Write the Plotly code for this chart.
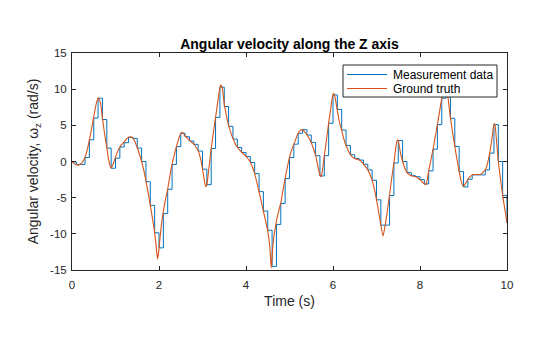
import plotly.graph_objects as go

# Measurement data (zero-order hold samples every 0.1 s)
meas_t = [round(0.1 * i, 1) for i in range(101)]
meas_v = [
    -0.05, -0.4, -0.4, 0.55, 3.0, 6.0, 8.75, 5.8, 1.85, -0.93,
    0.46, 2.0, 2.6, 3.33, 3.2, 1.85, 0.0, -2.8, -6.06, -9.86,
    -11.94, -7.2, -3.84, -0.42, 2.05, 3.9, 3.43, 2.83, 2.37, 1.45,
    -1.06, -3.2, 1.8, 6.1, 10.28, 7.6, 4.86, 3.1, 1.94, 1.25,
    0.7, -0.14, -1.67, -4.17, -6.85, -9.5, -14.5, -8.7, -5.8, -2.36,
    0.55, 2.4, 3.9, 4.4, 3.66, 2.64, 0.8, -2.0, 0.8, 5.28,
    9.2, 7.2, 4.35, 2.2, 0.93, 0.42, 0.2, -0.37, -1.16, -2.6,
    -5.3, -8.8, -8.8, -4.7, -0.2, 2.9, 0.0, -1.54, -1.96, -2.1,
    -2.5, -3.1, -1.3, 1.7, 5.1, 8.75, 10.4, 5.97, 2.08, -1.4,
    -3.52, -2.45, -1.85, -1.85, -1.85, -1.16, 1.16, 5.1, 0.0, -4.68,
    -8.5,
]

# Ground truth
truth_t = [
    0.00, 0.05, 0.10, 0.15, 0.20, 0.25, 0.30, 0.35, 0.40, 0.45,
    0.50, 0.55, 0.60, 0.65, 0.70, 0.75, 0.80, 0.85, 0.90, 0.95,
    1.00, 1.05, 1.10, 1.15, 1.20, 1.25, 1.30, 1.35, 1.40, 1.45,
    1.50, 1.55, 1.60, 1.65, 1.70, 1.75, 1.80, 1.85, 1.90, 1.94,
    1.97, 2.00, 2.05, 2.10, 2.15, 2.20, 2.25, 2.30, 2.35, 2.40,
    2.45, 2.50, 2.53, 2.55, 2.60, 2.65, 2.70, 2.75, 2.80, 2.85,
    2.90, 2.95, 3.00, 3.05, 3.08, 3.10, 3.15, 3.20, 3.25, 3.30,
    3.35, 3.40, 3.42, 3.45, 3.50, 3.55, 3.60, 3.65, 3.70, 3.75,
    3.80, 3.85, 3.90, 3.95, 4.00, 4.05, 4.10, 4.15, 4.20, 4.25,
    4.30, 4.35, 4.40, 4.45, 4.50, 4.55, 4.58, 4.62, 4.65, 4.70,
    4.75, 4.80, 4.85, 4.90, 4.95, 5.00, 5.05, 5.10, 5.15, 5.20,
    5.25, 5.30, 5.35, 5.40, 5.45, 5.50, 5.55, 5.60, 5.65, 5.70,
    5.72, 5.75, 5.80, 5.85, 5.90, 5.95, 6.00, 6.02, 6.05, 6.10,
    6.15, 6.20, 6.25, 6.30, 6.35, 6.40, 6.45, 6.50, 6.55, 6.60,
    6.65, 6.70, 6.75, 6.80, 6.85, 6.90, 6.95, 7.00, 7.05, 7.10,
    7.15, 7.20, 7.25, 7.30, 7.35, 7.40, 7.45, 7.48, 7.50, 7.55,
    7.60, 7.65, 7.70, 7.75, 7.80, 7.85, 7.90, 7.95, 8.00, 8.05,
    8.10, 8.13, 8.15, 8.20, 8.25, 8.30, 8.35, 8.40, 8.45, 8.50,
    8.55, 8.58, 8.62, 8.65, 8.70, 8.75, 8.80, 8.85, 8.90, 8.95,
    9.00, 9.05, 9.10, 9.15, 9.20, 9.25, 9.30, 9.35, 9.40, 9.45,
    9.50, 9.55, 9.60, 9.65, 9.70, 9.72, 9.75, 9.80, 9.85, 9.90,
    9.95, 10.00,
]
truth_v = [
    0.0, -0.3, -0.45, -0.5, -0.35, 0.0, 0.6, 1.6, 3.0, 4.5,
    6.2, 7.8, 8.8, 8.2, 6.0, 3.8, 1.9, 0.0, -0.9, -0.3,
    0.6, 1.4, 2.0, 2.4, 2.7, 3.1, 3.35, 3.4, 3.2, 2.7,
    1.9, 1.0, 0.0, -1.2, -2.7, -4.3, -6.0, -7.9, -9.8, -12.0,
    -13.5, -12.0, -9.0, -6.9, -5.2, -3.8, -2.0, -0.4, 0.9, 2.05,
    3.1, 3.9, 4.05, 4.0, 3.5, 3.2, 2.9, 2.65, 2.4, 2.0,
    1.5, 0.5, -1.0, -2.9, -3.5, -3.2, -0.8, 1.8, 4.0, 6.1,
    8.2, 10.2, 10.6, 10.2, 8.0, 6.3, 5.0, 4.0, 3.2, 2.5,
    2.0, 1.6, 1.25, 1.0, 0.7, 0.35, -0.1, -0.8, -1.7, -2.9,
    -4.2, -5.5, -6.9, -8.2, -9.6, -12.0, -14.7, -11.5, -10.0, -8.2,
    -6.9, -5.7, -4.0, -2.3, -0.8, 0.6, 1.6, 2.4, 3.2, 3.9,
    4.3, 4.4, 4.1, 3.7, 3.2, 2.6, 1.8, 0.8, -0.6, -1.9,
    -2.1, -1.5, 0.8, 3.0, 5.3, 7.4, 9.3, 9.4, 8.8, 7.0,
    5.4, 4.3, 3.1, 2.2, 1.5, 0.95, 0.6, 0.42, 0.3, 0.2,
    0.0, -0.35, -0.7, -1.16, -1.8, -2.6, -3.8, -5.3, -7.0, -8.8,
    -10.3, -8.8, -6.8, -4.6, -2.3, -0.2, 2.2, 3.0, 2.9, 1.2,
    0.0, -0.9, -1.5, -1.8, -1.96, -2.05, -2.1, -2.3, -2.5, -2.8,
    -3.1, -3.2, -3.0, -1.3, 0.2, 1.7, 3.4, 5.1, 6.9, 8.75,
    10.0, 10.6, 10.2, 8.5, 6.0, 4.0, 2.1, 0.3, -1.4, -2.8,
    -3.5, -3.0, -2.45, -2.1, -1.85, -1.8, -1.8, -1.8, -1.75, -1.5,
    -1.16, -0.3, 1.1, 3.0, 5.1, 5.2, 3.5, 0.0, -2.4, -4.7,
    -6.6, -8.5,
]

series_names = ["Measurement data", "Ground truth"]
series_colors = ["#0072BD", "#D95319"]

x_ticks = [0, 2, 4, 6, 8, 10]
y_ticks = [-15, -10, -5, 0, 5, 10, 15]

FONT = "Liberation Sans, Arial, Helvetica, sans-serif"
AX = "#262626"

# plot area in pixels
L, R, T, B = 72, 507, 53, 270
def px_x(p):
    return (p - L) / (R - L)
def px_y(p):
    return (B - p) / (B - T)

fig = go.Figure()
fig.add_trace(go.Scatter(
    x=meas_t, y=meas_v, mode="lines", name=series_names[0],
    line=dict(color=series_colors[0], width=1, shape="hv"),
))
fig.add_trace(go.Scatter(
    x=truth_t, y=truth_v, mode="lines", name=series_names[1],
    line=dict(color=series_colors[1], width=1.1, shape="spline", smoothing=0.6),
))

axis_common = dict(
    showline=True, linecolor=AX, linewidth=1, mirror="ticks",
    ticks="inside", ticklen=4, tickcolor=AX, showgrid=False, zeroline=False,
    tickfont=dict(family=FONT, size=11.5, color=AX),
)

# compact MATLAB-style legend box
shapes = [dict(
    type="rect", xref="paper", yref="paper", layer="above",
    x0=px_x(343), x1=px_x(497), y0=px_y(97), y1=px_y(65),
    fillcolor="white", line=dict(color=AX, width=1),
)]
annotations = []
for i, (nm, col) in enumerate(zip(series_names, series_colors)):
    yc = 74.5 + 14 * i
    shapes.append(dict(
        type="line", xref="paper", yref="paper", layer="above",
        x0=px_x(347), x1=px_x(387), y0=px_y(yc), y1=px_y(yc),
        line=dict(color=col, width=1),
    ))
    annotations.append(dict(
        text=nm, xref="paper", yref="paper", showarrow=False,
        x=px_x(391), y=px_y(yc), xanchor="left", yanchor="middle",
        font=dict(family=FONT, size=12, color="black"),
    ))

fig.update_layout(
    width=560, height=337,
    margin=dict(l=L, r=560 - R, t=T, b=337 - B),
    paper_bgcolor="white", plot_bgcolor="white",
    font=dict(family=FONT, color=AX),
    title=dict(
        text="<b>Angular velocity along the Z axis</b>",
        x=(L + R) / 2 / 560, xanchor="center",
        y=1 - 44 / 337, yanchor="middle",
        font=dict(family=FONT, size=14, color="black"),
    ),
    xaxis=dict(
        range=[0, 10], tickvals=x_ticks, ticktext=[str(v) for v in x_ticks],
        ticklabelstandoff=4,
        title=dict(text="Time (s)", font=dict(family=FONT, size=14, color=AX), standoff=6),
        **axis_common,
    ),
    yaxis=dict(
        range=[-15, 15], tickvals=y_ticks, ticktext=[str(v) for v in y_ticks],
        ticklabelstandoff=2,
        title=dict(text="Angular velocity, ω<sub>z</sub> (rad/s)",
                   font=dict(family=FONT, size=14, color=AX), standoff=8),
        **axis_common,
    ),
    shapes=shapes,
    annotations=annotations,
    showlegend=False,
)

fig.write_html("out.html")
